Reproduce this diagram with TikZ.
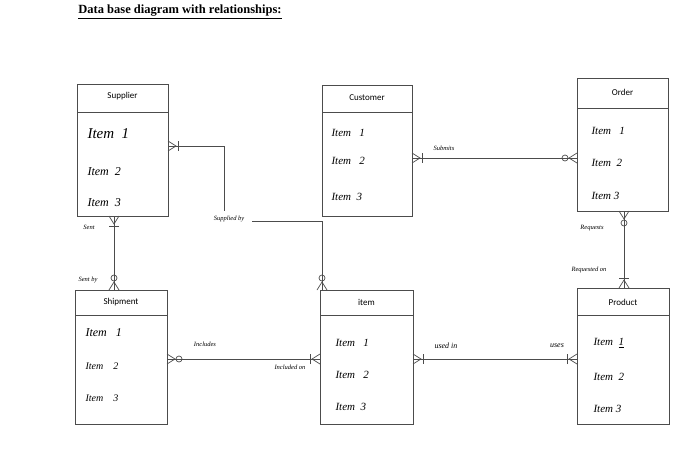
\documentclass[tikz,border=0pt]{standalone}
\usepackage{fontspec}
\setmainfont{Liberation Serif}
\newfontfamily\hdr{Carlito}
\newfontfamily\hand{Liberation Serif}
\newcommand\erfoot[3]{\begin{scope}[shift={(#1)},rotate=#2]\draw[conn] (0,-5)--(8,0)--(0,5); #3\end{scope}}
\newcommand\erbar{\draw[conn] (10,-5)--(10,5);}
\newcommand\ercirc{\draw[conn] (12,0) circle (3);}
\begin{document}
\begin{tikzpicture}[x=1pt,y=-1pt,
  box/.style={draw=black!70,line width=0.8pt,rectangle,inner sep=0},
  conn/.style={draw=black!70,line width=0.7pt},
  hd/.style={font=\hdr\fontsize{9}{10}\selectfont,anchor=center},
  it/.style={font=\hand\itshape\fontsize{12}{13}\selectfont,anchor=west},
  itb/.style={font=\hand\itshape\fontsize{15}{16}\selectfont,anchor=west},
  lb/.style={font=\hand\itshape\fontsize{6.5}{7}\selectfont}]
\useasboundingbox (0,0) rectangle (700,455);
\fill[white] (0,0) rectangle (700,455);
\node[font=\bfseries\fontsize{12.5}{14}\selectfont] (title) at (180,12) {\underline{Data base diagram with relationships:}};
% boxes
\node[box,minimum width=91,minimum height=132] (sup) at (122.5,150) {};
\node[box,minimum width=90,minimum height=131] (cus) at (367,150.5) {};
\node[box,minimum width=91,minimum height=133] (ord) at (622.5,144.5) {};
\node[box,minimum width=92,minimum height=134] (shp) at (121,357) {};
\node[box,minimum width=93,minimum height=134] (itm) at (366.5,357) {};
\node[box,minimum width=92,minimum height=136] (prd) at (623,356) {};
\draw[box] (77,112)--(168,112) (322,112)--(412,112) (577,108)--(668,108)
  (75,315)--(167,315) (320,315)--(413,315) (577,315)--(669,315);
\node[hd] (hsup) at (122.5,96) {Supplier};
\node[hd] (hcus) at (367,98) {Customer};
\node[hd] (hord) at (622.5,92) {Order};
\node[hd] (hshp) at (121,302) {Shipment};
\node[hd] (hitm) at (366.5,302) {item};
\node[hd] (hprd) at (623,302) {Product};
% items
\node[itb] (s1) at (84,134) {Item\ \ 1};
\node[it] (s2) at (84,172) {Item\ \ 2};
\node[it] (s3) at (84,203) {Item\ \ 3};
\node[it,font=\hand\itshape\fontsize{11}{12}\selectfont] (c1) at (328,133) {Item\ \ \ 1};
\node[it,font=\hand\itshape\fontsize{11}{12}\selectfont] (c2) at (328,161) {Item\ \ \ 2};
\node[it,font=\hand\itshape\fontsize{11}{12}\selectfont] (c3) at (328,197) {Item\ \ 3};
\node[it,font=\hand\itshape\fontsize{11}{12}\selectfont] (o1) at (588,131) {Item\ \ \ 1};
\node[it,font=\hand\itshape\fontsize{11}{12}\selectfont] (o2) at (588,163) {Item\ \ 2};
\node[it,font=\hand\itshape\fontsize{11}{12}\selectfont] (o3) at (588,196) {Item\ 3};
\node[it] (h1) at (82,333) {Item\ \ \ 1};
\node[it,font=\hand\itshape\fontsize{10}{11}\selectfont] (h2) at (82,366) {Item\ \ \ \ 2};
\node[it,font=\hand\itshape\fontsize{10}{11}\selectfont] (h3) at (82,398) {Item\ \ \ \ 3};
\node[it,font=\hand\itshape\fontsize{11}{12}\selectfont] (i1) at (332,343) {Item\ \ \ 1};
\node[it,font=\hand\itshape\fontsize{11}{12}\selectfont] (i2) at (332,375) {Item\ \ \ 2};
\node[it,font=\hand\itshape\fontsize{11}{12}\selectfont] (i3) at (332,407) {Item\ \ 3};
\node[it,font=\hand\itshape\fontsize{11}{12}\selectfont] (p1) at (590,343) {Item\ \ \underline{1}};
\node[it,font=\hand\itshape\fontsize{11}{12}\selectfont] (p2) at (590,377) {Item\ \ 2};
\node[it,font=\hand\itshape\fontsize{11}{12}\selectfont] (p3) at (590,409) {Item\ 3};
% connector coordinates
\coordinate (a1) at (168,146); \coordinate (a2) at (224,146); \coordinate (a3) at (224,211);
\coordinate (a4) at (252,221); \coordinate (a5) at (322,221); \coordinate (a6) at (322,290);
\draw[conn] (a1)--(a2)--(a3) (a4)--(a5)--(a6);
\coordinate (b1) at (114,216); \coordinate (b2) at (114,290);
\draw[conn] (b1)--(b2);
\coordinate (c1p) at (412,158); \coordinate (c2p) at (577,158);
\draw[conn] (c1p)--(c2p);
\coordinate (d1) at (624,211); \coordinate (d2) at (624,288);
\draw[conn] (d1)--(d2);
\coordinate (e1) at (167,359); \coordinate (e2) at (320,359);
\draw[conn] (e1)--(e2);
\coordinate (f1) at (413,359); \coordinate (f2) at (577,359);
\draw[conn] (f1)--(f2);
% feet
\erfoot{a1}{0}{\erbar}
\erfoot{b1}{-90}{\erbar}
\erfoot{b2}{90}{\ercirc}
\erfoot{a6}{90}{\ercirc}
\erfoot{c1p}{0}{\erbar}
\erfoot{c2p}{180}{\ercirc}
\erfoot{d1}{-90}{\ercirc}
\erfoot{d2}{90}{\erbar}
\erfoot{e1}{0}{\ercirc}
\erfoot{e2}{180}{\erbar}
\erfoot{f1}{0}{\erbar}
\erfoot{f2}{180}{\erbar}
% labels
\node[lb] (l1) at (89,227) {Sent};
\node[lb] (l2) at (88,280) {Sent by};
\node[lb] (l3) at (229,219) {Supplied by};
\node[lb] (l4) at (444,148) {Submits};
\node[lb] (l5) at (592,228) {Requests};
\node[lb] (l6) at (589,270) {Requested on};
\node[lb] (l7) at (205,344) {Includes};
\node[lb] (l8) at (290,367) {Included on};
\node[lb,font=\hand\itshape\fontsize{8}{9}\selectfont] (l9) at (446,346) {used in};
\node[lb,font=\hand\itshape\fontsize{8}{9}\selectfont] (l10) at (557,346) {uses};
\end{tikzpicture}
\end{document}
